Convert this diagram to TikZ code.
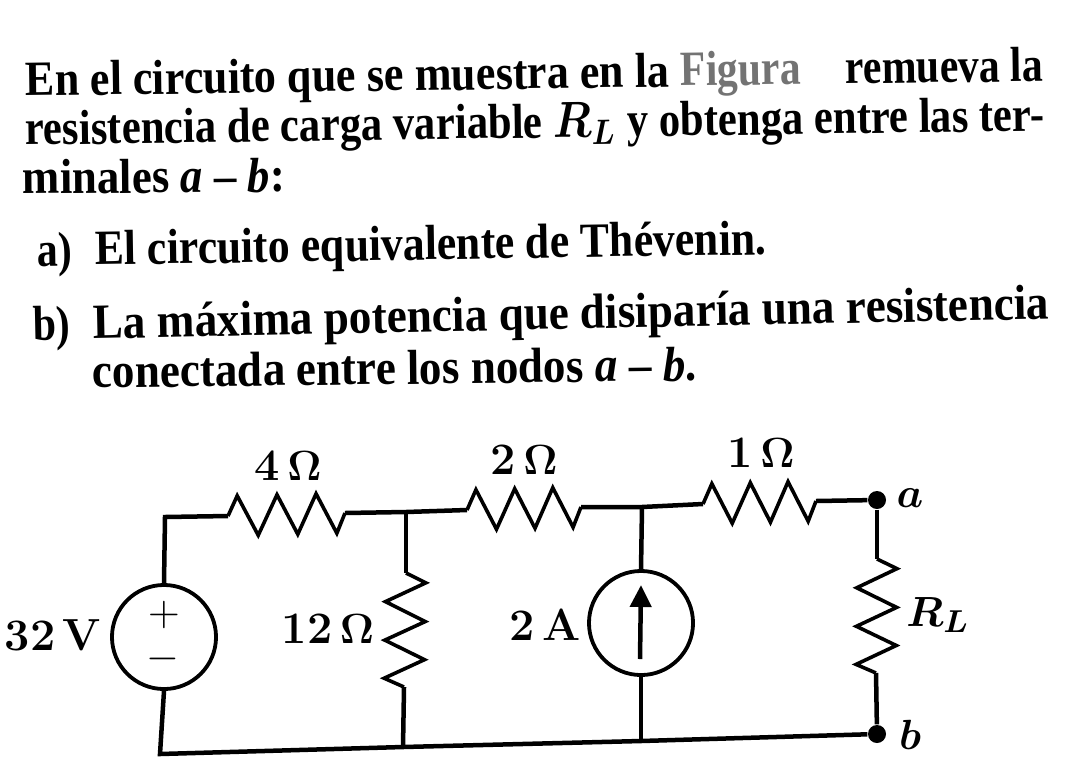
\documentclass[tikz,border=0pt]{standalone}
\usepackage{graphicx}
\usepackage{fontspec}
\newfontfamily\textofont{Liberation Serif}
\usetikzlibrary{calc}
\usetikzlibrary{arrows.meta}
\tikzset{
  linea/.style={anchor=base west,inner sep=0pt,font=\textofont\fontsize{14}{16}\selectfont\bfseries\boldmath},
  etiq/.style={inner sep=0pt,font=\fontsize{12.8}{14}\selectfont\bfseries\boldmath},
  signo/.style={inner sep=0pt,font=\fontsize{12}{12}\selectfont},
  cable/.style={line width=.045cm},
  zigzag/.style={line width=.036cm,line join=miter},
  fuente/.style={circle,draw,line width=.038cm,minimum size=1.04cm,inner sep=0pt},
  borne/.style={circle,fill,minimum size=.18cm,inner sep=0pt}
}
\begin{document}
\begin{tikzpicture}[x=.01cm,y=-.01cm]
	% fix the page to the size of the reference
	\useasboundingbox (0,0) rectangle (1080,770);
	
	% resistor between two named coordinates, first peak to the left of travel
	\def\resistor#1#2{
		\draw[zigzag] (#1)
		-- ($(#1)!.083!(#2)!.2cm!90:(#2)$)
		-- ($(#1)!.254!(#2)!.2cm!-90:(#2)$)
		-- ($(#1)!.423!(#2)!.2cm!90:(#2)$)
		-- ($(#1)!.592!(#2)!.2cm!-90:(#2)$)
		-- ($(#1)!.757!(#2)!.2cm!90:(#2)$)
		-- ($(#1)!.926!(#2)!.2cm!-90:(#2)$)
		-- (#2);
	}
	
	% Statement text
	\node[linea,rotate=.8] (t1) at (25,96) {\scalebox{.895}[1]{En el circuito que se muestra en la}};
	\node[linea,rotate=.8,text=black!55] (t1b) at (680,86) {\scalebox{.845}[1]{Figura}};
	\node[linea,rotate=.8] (t1c) at (845,84) {\scalebox{.848}[1]{remueva la}};
	\node[linea,rotate=.8] (t2) at (25,145) {\scalebox{.867}[1]{resistencia de carga variable $R_L$ y obtenga entre las ter-}};
	\node[linea,rotate=.5] (t3) at (22,194) {\scalebox{.91}[1]{minales \textit{a} – \textit{b}:}};
	\node[linea,rotate=.9] (t4a) at (37,267) {\scalebox{.85}[1]{a)}};
	\node[linea,rotate=.9] (t4) at (95,265) {\scalebox{.888}[1]{El circuito equivalente de Thévenin.}};
	\node[linea,rotate=1.2] (t5a) at (33,341) {\scalebox{.85}[1]{b)}};
	\node[linea,rotate=1.2] (t5) at (93,339) {\scalebox{.918}[1]{La máxima potencia que disiparía una resistencia}};
	\node[linea,rotate=.7] (t6) at (92,388) {\scalebox{.916}[1]{conectada entre los nodos \textit{a} – \textit{b}.}};
	
	% Wire corners and junctions
	\coordinate (tl) at (165,517);
	\coordinate (bl) at (160,754);
	\coordinate (n1) at (406,512);
	\coordinate (m1) at (403,747);
	\coordinate (n2) at (642,507);
	\coordinate (m2) at (641,741);
	
	% Resistor ends
	\coordinate (r4a) at (228,516);
	\coordinate (r4b) at (345,513);
	\coordinate (r2a) at (467,510);
	\coordinate (r2b) at (581,507);
	\coordinate (r1a) at (703,504);
	\coordinate (r1b) at (816,501);
	\coordinate (r12a) at (406,573);
	\coordinate (r12b) at (404,687);
	\coordinate (rla) at (877,559);
	\coordinate (rlb) at (876,673);
	
	% Sources and terminals
	\node[fuente] (vs) at (164,637) {};
	\node[fuente] (is) at (641,623) {};
	\node[borne] (a) at (877,500) {};
	\node[borne] (b) at (877,734) {};
	
	% Draw the wires
	\draw[cable] (vs.north) -- (tl) -- (r4a);
	\draw[cable] (r4b) -- (n1) -- (r2a);
	\draw[cable] (r2b) -- (n2) -- (r1a);
	\draw[cable] (r1b) -- (a);
	\draw[cable] (n1) -- (r12a);
	\draw[cable] (r12b) -- (m1);
	\draw[cable] (n2) -- (is.north);
	\draw[cable] (is.south) -- (m2);
	\draw[cable] (a) -- (rla);
	\draw[cable] (rlb) -- (b);
	\draw[cable] (vs.south) -- (bl) -- (m1) -- (m2) -- (b);
	
	% Draw the resistors
	\resistor{r4a}{r4b}
	\resistor{r2a}{r2b}
	\resistor{r1a}{r1b}
	\resistor{r12a}{r12b}
	\resistor{rla}{rlb}
	
	% Signs of the voltage source and arrow of the current source
	\node[signo] (mas) at (164,615) {$+$};
	\node[signo] (menos) at (163,659) {$-$};
	\coordinate (fl1) at (640,659);
	\coordinate (fl2) at (641,585);
	\draw[cable,-{Triangle[width=.21cm,length=.22cm]}] (fl1) -- (fl2);
	
	% Labels
	\node[etiq] (l32) at (53,635) {32\,V};
	\node[etiq] (l4) at (288,466) {4\,$\mathbf{\Omega}$};
	\node[etiq] (l2) at (524,460) {2\,$\mathbf{\Omega}$};
	\node[etiq] (l1) at (761,453) {1\,$\mathbf{\Omega}$};
	\node[etiq] (l12) at (328,629) {12\,$\mathbf{\Omega}$};
	\node[etiq] (l2a) at (545,625) {2\,A};
	\node[etiq] (la) at (910,498) {$a$};
	\node[etiq] (lb) at (910,735) {$b$};
	\node[etiq] (lr) at (938,615) {$R_L$};
\end{tikzpicture}
\end{document}
